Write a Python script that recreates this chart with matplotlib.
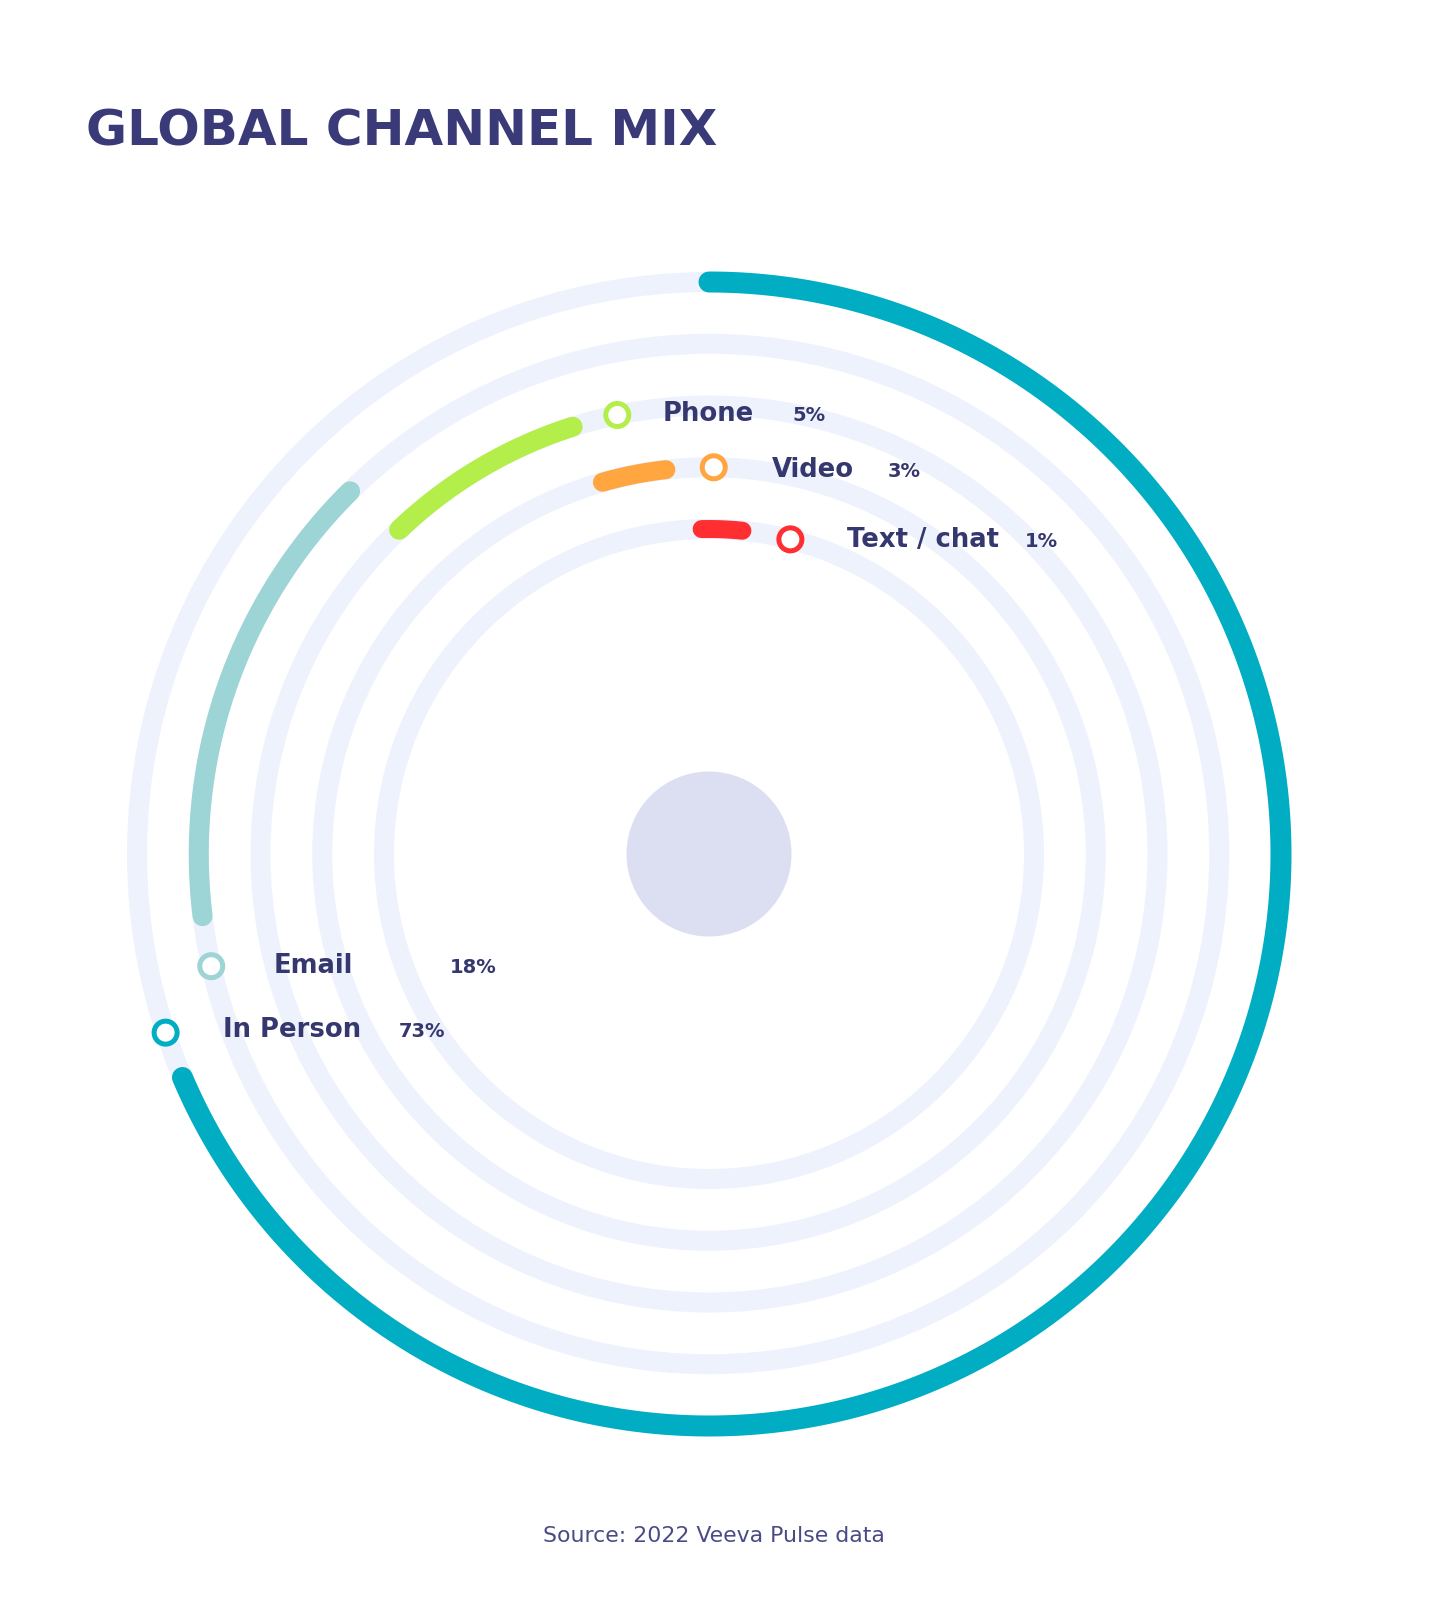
import numpy as np
import matplotlib
matplotlib.use("Agg")
import matplotlib.pyplot as plt
from matplotlib.patches import Circle

# ---------------- data ----------------
channels = ["In Person", "Email", "Phone", "Video", "Text / chat"]
shares = [73, 18, 5, 3, 1]
# arc extents, degrees clockwise from 12 o'clock, as drawn in the picture
arc_start_deg = [0.0, 263.0, 316.3, 344.0, 358.7]
arc_end_deg = [247.0, 315.3, 342.3, 353.6, 365.9]
marker_deg = [251.8, 257.3, 348.2, 360.7, 374.5]

title = "GLOBAL CHANNEL MIX"
source = "Source: 2022 Veeva Pulse data"

# ---------------- styles / layout ----------------
colors = ["#00ADC3", "#9DD4D5", "#B3EE4B", "#FFA640", "#FF2E30"]
arc_width_px = [21, 20, 20, 19, 18]
track_color = "#EEF2FD"
disk_color = "#DCDFF1"
label_color = "#35376F"
title_color = "#393A77"
source_color = "#4A4B86"

W, H = 1429, 1616
cx, cy = 709, 854
ring_outer = 572.0
ring_step = 61.75
track_px = 20
disk_r = 82.5
marker_r = 11.5
PX2PT = 72.0 / 100.0

label_x = [223, 274, 663, 772, 847]
pct_x = [399, 450, 792, 888, 1025]
label_base_y = [1037, 973, 421, 477, 547]

fig = plt.figure(figsize=(W / 100, H / 100), dpi=100)
ax = fig.add_axes([0, 0, 1, 1])
ax.set_xlim(0, W)
ax.set_ylim(H, 0)
ax.set_aspect("equal")
ax.axis("off")

# background tracks
for i in range(len(channels)):
    r = ring_outer - i * ring_step
    ax.add_patch(Circle((cx, cy), r, fill=False, ec=track_color,
                        lw=track_px * PX2PT, zorder=1))

# centre disk
ax.add_patch(Circle((cx, cy), disk_r, fc=disk_color, ec="none", zorder=1))

# coloured arcs, markers, labels
for i, name in enumerate(channels):
    r = ring_outer - i * ring_step
    th = np.radians(np.linspace(arc_start_deg[i], arc_end_deg[i], 300))
    ax.plot(cx + r * np.sin(th), cy - r * np.cos(th), color=colors[i],
            lw=arc_width_px[i] * PX2PT, solid_capstyle="round", zorder=2)
    m = np.radians(marker_deg[i])
    ax.add_patch(Circle((cx + r * np.sin(m), cy - r * np.cos(m)), marker_r,
                        fc="white", ec=colors[i], lw=5 * PX2PT, zorder=3))
    ax.text(label_x[i], label_base_y[i], name, fontsize=18.6,
            fontweight="bold", color=label_color, ha="left", va="baseline",
            zorder=4)
    ax.text(pct_x[i], label_base_y[i], f"{shares[i]}%", fontsize=14,
            fontweight="bold", color=label_color, ha="left", va="baseline",
            zorder=4)

ax.text(86, 146, title, fontsize=36, fontweight="bold", color=title_color,
        ha="left", va="baseline")
ax.text(714, 1542, source, fontsize=15.8, color=source_color,
        ha="center", va="baseline")

fig.savefig("out.png", dpi=100, facecolor="white")
